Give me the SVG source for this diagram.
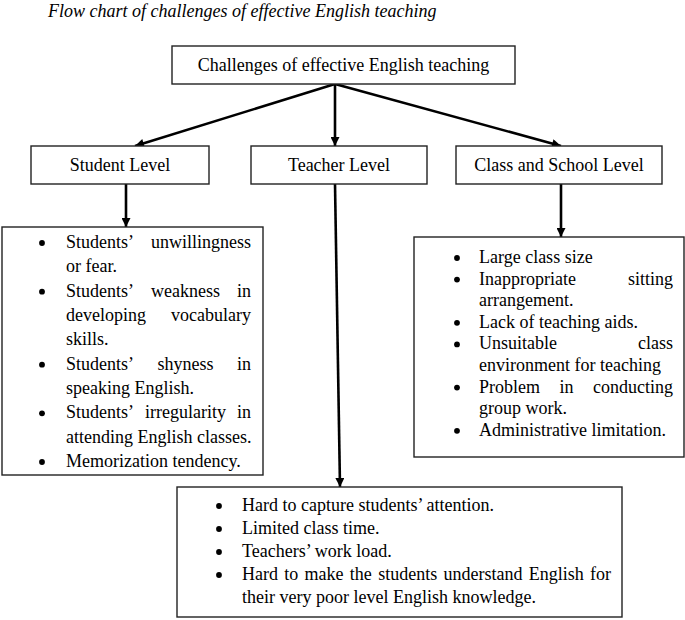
<svg xmlns="http://www.w3.org/2000/svg" width="685" height="620" viewBox="0 0 685 620">
<defs>
<marker id="ah" viewBox="0 0 10 10" refX="10" refY="5" markerWidth="10" markerHeight="9" markerUnits="userSpaceOnUse" orient="auto">
<path d="M0,0 L10,5 L0,10 z" fill="#000"/>
</marker>
<style>
text{font-family:"Liberation Serif","Times New Roman",serif;font-size:18px;fill:#000}
.t{font-style:italic}
.c{text-anchor:middle}
.e{text-anchor:end}
.box{fill:#fff;stroke:#222;stroke-width:1.4}
.arr{stroke:#000;stroke-width:2.6;fill:none;marker-end:url(#ah)}
.dot{fill:#000}
</style>
</defs>
<rect width="685" height="620" fill="#fff"/>
<text class="t" x="48" y="17">Flow chart of challenges of effective English teaching</text>

<g id="connectors">
<line class="arr" x1="335" y1="84" x2="135" y2="146"/>
<line class="arr" x1="335" y1="84" x2="335" y2="146"/>
<line class="arr" x1="335" y1="84" x2="561" y2="146"/>
<line class="arr" x1="126" y1="184" x2="126" y2="227"/>
<line class="arr" x1="335" y1="184" x2="340" y2="487"/>
<line class="arr" x1="561" y1="184" x2="561" y2="237"/>
</g>

<g id="root">
<rect class="box" x="172" y="46" width="343" height="38"/>
<text class="c" x="343.5" y="71">Challenges of effective English teaching</text>
</g>

<g id="student-level">
<rect class="box" x="31" y="146" width="178" height="38"/>
<text class="c" x="120" y="171">Student Level</text>
</g>

<g id="teacher-level">
<rect class="box" x="251" y="146" width="176" height="38"/>
<text class="c" x="339" y="171">Teacher Level</text>
</g>

<g id="class-level">
<rect class="box" x="456" y="146" width="206" height="38"/>
<text class="c" x="559" y="171">Class and School Level</text>
</g>

<g id="student-list">
<rect class="box" x="2" y="227" width="261" height="248"/>
<circle class="dot" cx="42" cy="243" r="2.9"/>
<circle class="dot" cx="42" cy="291.7" r="2.9"/>
<circle class="dot" cx="42" cy="364.7" r="2.9"/>
<circle class="dot" cx="42" cy="413.3" r="2.9"/>
<circle class="dot" cx="42" cy="462" r="2.9"/>
<text x="66" y="248">Students’</text><text class="e" x="251" y="248">unwillingness</text>
<text x="66" y="272.3">or fear.</text>
<text x="66" y="296.7">Students’</text><text class="c" x="185.5" y="296.7">weakness</text><text class="e" x="251" y="296.7">in</text>
<text x="66" y="321">developing</text><text class="e" x="251" y="321">vocabulary</text>
<text x="66" y="345.3">skills.</text>
<text x="66" y="369.7">Students’</text><text class="c" x="185.5" y="369.7">shyness</text><text class="e" x="251" y="369.7">in</text>
<text x="66" y="394">speaking English.</text>
<text x="66" y="418.3">Students’</text><text class="c" x="185.5" y="418.3">irregularity</text><text class="e" x="251" y="418.3">in</text>
<text x="66" y="442.7">attending English classes.</text>
<text x="66" y="467">Memorization tendency.</text>
</g>

<g id="class-list">
<rect class="box" x="414" y="237" width="270" height="220"/>
<circle class="dot" cx="457" cy="258" r="2.9"/>
<circle class="dot" cx="457" cy="279.6" r="2.9"/>
<circle class="dot" cx="457" cy="322.8" r="2.9"/>
<circle class="dot" cx="457" cy="344.4" r="2.9"/>
<circle class="dot" cx="457" cy="387.6" r="2.9"/>
<circle class="dot" cx="457" cy="430.8" r="2.9"/>
<text x="479" y="263">Large class size</text>
<text x="479" y="284.6">Inappropriate</text><text class="e" x="673" y="284.6">sitting</text>
<text x="479" y="306.2">arrangement.</text>
<text x="479" y="327.8">Lack of teaching aids.</text>
<text x="479" y="349.4">Unsuitable</text><text class="e" x="673" y="349.4">class</text>
<text x="479" y="371">environment for teaching</text>
<text x="479" y="392.6">Problem</text><text class="c" x="566.5" y="392.6">in</text><text class="e" x="673" y="392.6">conducting</text>
<text x="479" y="414.2">group work.</text>
<text x="479" y="435.8">Administrative limitation.</text>
</g>

<g id="teacher-list">
<rect class="box" x="177" y="487" width="445" height="130"/>
<circle class="dot" cx="219" cy="506" r="2.9"/>
<circle class="dot" cx="219" cy="529" r="2.9"/>
<circle class="dot" cx="219" cy="552" r="2.9"/>
<circle class="dot" cx="219" cy="575" r="2.9"/>
<text x="242" y="511">Hard to capture students’ attention.</text>
<text x="242" y="534">Limited class time.</text>
<text x="242" y="557">Teachers’ work load.</text>
<text x="242" y="580" style="word-spacing:1.8px">Hard to make the students understand English for</text>
<text x="242" y="603">their very poor level English knowledge.</text>
</g>
</svg>
